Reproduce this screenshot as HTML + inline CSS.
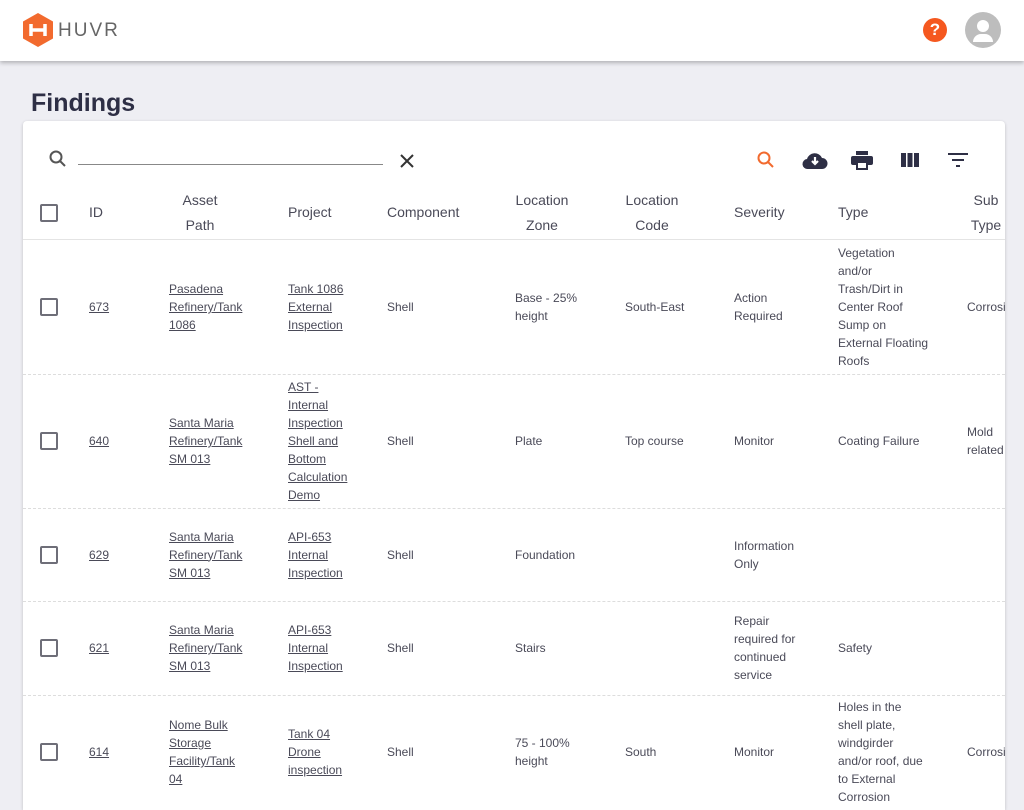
<!DOCTYPE html>
<html style="width:1024px;height:810px;overflow:hidden"><head><meta charset="utf-8">
<style>
*{margin:0;padding:0;box-sizing:border-box}
body{width:1024px;height:810px;overflow:hidden;background:#eeeef3;font-family:"Liberation Sans",sans-serif;position:relative;color:#4a4a58}
.top{position:absolute;left:0;top:0;width:1024px;height:61px;background:#fff;box-shadow:0 2px 4px rgba(0,0,0,.25)}
h1{position:absolute;left:31px;top:89px;font-size:25px;font-weight:bold;color:#2e2f45}
.card{position:absolute;left:23px;top:121px;width:982px;height:689px;background:#fff;border-radius:4px 4px 0 0;box-shadow:0 1px 3px rgba(0,0,0,.2)}
.a{position:absolute}
.c{position:absolute;font-size:12px;line-height:18px;display:flex;align-items:center}
.u{text-decoration:underline}
.h{position:absolute;font-size:14px;line-height:24.5px;color:#4a4a58;text-align:center}
.cb{position:absolute;width:18px;height:18px;border:2px solid #6e6e78;border-radius:2px}
.sep{position:absolute;left:23px;width:982px;border-top:1px dashed #ddd}
</style></head><body>
<div class="top">
 <svg class="a" style="left:22px;top:13px" width="32" height="34" viewBox="0 0 32 34"><polygon points="16,0 31,8.5 31,25.5 16,34 1,25.5 1,8.5" fill="#f26a2e"/><path d="M9 11v12M23 11v12M9 17h14" stroke="#fff" stroke-width="3.5" fill="none"/></svg>
 <div class="a" style="left:58px;top:20px;font-size:19px;letter-spacing:2px;color:#666;">HUVR</div>
 <div class="a" style="left:923px;top:18px;width:24px;height:24px;border-radius:50%;background:#f5581f;color:#fff;font-weight:bold;font-size:17px;text-align:center;line-height:24px">?</div>
 <div class="a" style="left:965px;top:12px;width:36px;height:36px;border-radius:50%;background:#bdbdbd;overflow:hidden">
  <div class="a" style="left:12px;top:8px;width:12px;height:12px;border-radius:50%;background:#fff"></div>
  <div class="a" style="left:8px;top:22px;width:20px;height:8px;border-radius:8px 8px 0 0;background:#fff"></div></div>
</div>
<h1>Findings</h1>
<div class="card"></div>
<svg class="a" style="left:48px;top:149px" width="20" height="20" viewBox="0 0 20 20"><circle cx="8" cy="8" r="5.5" stroke="#555" stroke-width="2" fill="none"/><path d="M12 12l5 5" stroke="#555" stroke-width="2"/></svg>
<div class="a" style="left:78px;top:164px;width:305px;border-top:1px solid #888"></div>
<svg class="a" style="left:399px;top:153px" width="16" height="16"><path d="M2 2l12 12M14 2L2 14" stroke="#333" stroke-width="2"/></svg>
<svg class="a" style="left:756px;top:150px" width="20" height="20" viewBox="0 0 20 20"><circle cx="8" cy="8" r="5.5" stroke="#f26a2e" stroke-width="2" fill="none"/><path d="M12 12l5 5" stroke="#f26a2e" stroke-width="2"/></svg>
<svg class="a" style="left:802px;top:151px" width="26" height="19" viewBox="0 0 26 19"><path d="M6 18a5 5 0 0 1-1-10a8 8 0 0 1 15-1a5.5 5.5 0 0 1 0 11z" fill="#2e2f45"/><path d="M13 6v6M10 10l3 3 3-3" stroke="#fff" stroke-width="2.2" fill="none"/></svg>
<svg class="a" style="left:851px;top:151px" width="22" height="19"><rect x="5" y="0" width="12" height="4" fill="#2e2f45"/><rect x="0" y="5" width="22" height="9" rx="2" fill="#2e2f45"/><rect x="5" y="11" width="12" height="8" fill="#2e2f45"/><rect x="7" y="12" width="8" height="5" fill="#fff"/></svg>
<svg class="a" style="left:901px;top:153px" width="18" height="14"><rect width="5" height="14" fill="#2e2f45"/><rect x="6.5" width="5" height="14" fill="#2e2f45"/><rect x="13" width="5" height="14" fill="#2e2f45"/></svg>
<svg class="a" style="left:948px;top:153px" width="20" height="14"><rect width="20" height="2" fill="#2e2f45"/><rect x="4" y="6" width="12" height="2" fill="#2e2f45"/><rect x="8" y="12" width="4" height="2" fill="#2e2f45"/></svg>

<div class="cb" style="left:40px;top:204px"></div>
<div class="h" style="left:89px;top:200px">ID</div>
<div class="h" style="left:160px;top:188px;width:80px">Asset<br>Path</div>
<div class="h" style="left:288px;top:200px">Project</div>
<div class="h" style="left:387px;top:200px">Component</div>
<div class="h" style="left:502px;top:188px;width:80px">Location<br>Zone</div>
<div class="h" style="left:612px;top:188px;width:80px">Location<br>Code</div>
<div class="h" style="left:734px;top:200px">Severity</div>
<div class="h" style="left:838px;top:200px">Type</div>
<div class="h" style="left:966px;top:188px;width:40px">Sub<br>Type</div>
<div class="sep" style="top:239px;border-top:1px solid #e4e4e4"></div>

<div class="cb" style="left:40px;top:298px"></div>
<div class="c u" style="left:89px;top:240px;height:134px">673</div>
<div class="c u" style="left:169px;top:240px;height:134px">Pasadena<br>Refinery/Tank<br>1086</div>
<div class="c u" style="left:288px;top:240px;height:134px">Tank 1086<br>External<br>Inspection</div>
<div class="c" style="left:387px;top:240px;height:134px">Shell</div>
<div class="c" style="left:515px;top:240px;height:134px">Base - 25%<br>height</div>
<div class="c" style="left:625px;top:240px;height:134px">South-East</div>
<div class="c" style="left:734px;top:240px;height:134px">Action<br>Required</div>
<div class="c" style="left:838px;top:240px;height:134px">Vegetation<br>and/or<br>Trash/Dirt in<br>Center Roof<br>Sump on<br>External Floating<br>Roofs</div>
<div class="c" style="left:967px;top:240px;height:134px;width:38px;overflow:hidden;white-space:nowrap">Corrosion</div>
<div class="sep" style="top:374px"></div>

<div class="cb" style="left:40px;top:432px"></div>
<div class="c u" style="left:89px;top:374px;height:134px">640</div>
<div class="c u" style="left:169px;top:374px;height:134px">Santa Maria<br>Refinery/Tank<br>SM 013</div>
<div class="c u" style="left:288px;top:374px;height:134px">AST -<br>Internal<br>Inspection<br>Shell and<br>Bottom<br>Calculation<br>Demo</div>
<div class="c" style="left:387px;top:374px;height:134px">Shell</div>
<div class="c" style="left:515px;top:374px;height:134px">Plate</div>
<div class="c" style="left:625px;top:374px;height:134px">Top course</div>
<div class="c" style="left:734px;top:374px;height:134px">Monitor</div>
<div class="c" style="left:838px;top:374px;height:134px">Coating Failure</div>
<div class="c" style="left:967px;top:374px;height:134px">Mold<br>related</div>
<div class="sep" style="top:508px"></div>

<div class="cb" style="left:40px;top:546px"></div>
<div class="c u" style="left:89px;top:508px;height:93px">629</div>
<div class="c u" style="left:169px;top:508px;height:93px">Santa Maria<br>Refinery/Tank<br>SM 013</div>
<div class="c u" style="left:288px;top:508px;height:93px">API-653<br>Internal<br>Inspection</div>
<div class="c" style="left:387px;top:508px;height:93px">Shell</div>
<div class="c" style="left:515px;top:508px;height:93px">Foundation</div>
<div class="c" style="left:734px;top:508px;height:93px">Information<br>Only</div>
<div class="sep" style="top:601px"></div>

<div class="cb" style="left:40px;top:639px"></div>
<div class="c u" style="left:89px;top:601px;height:94px">621</div>
<div class="c u" style="left:169px;top:601px;height:94px">Santa Maria<br>Refinery/Tank<br>SM 013</div>
<div class="c u" style="left:288px;top:601px;height:94px">API-653<br>Internal<br>Inspection</div>
<div class="c" style="left:387px;top:601px;height:94px">Shell</div>
<div class="c" style="left:515px;top:601px;height:94px">Stairs</div>
<div class="c" style="left:734px;top:601px;height:94px">Repair<br>required for<br>continued<br>service</div>
<div class="c" style="left:838px;top:601px;height:94px">Safety</div>
<div class="sep" style="top:695px"></div>

<div class="cb" style="left:40px;top:743px"></div>
<div class="c u" style="left:89px;top:695px;height:114px">614</div>
<div class="c u" style="left:169px;top:695px;height:114px">Nome Bulk<br>Storage<br>Facility/Tank<br>04</div>
<div class="c u" style="left:288px;top:695px;height:114px">Tank 04<br>Drone<br>inspection</div>
<div class="c" style="left:387px;top:695px;height:114px">Shell</div>
<div class="c" style="left:515px;top:695px;height:114px">75 - 100%<br>height</div>
<div class="c" style="left:625px;top:695px;height:114px">South</div>
<div class="c" style="left:734px;top:695px;height:114px">Monitor</div>
<div class="c" style="left:838px;top:695px;height:114px">Holes in the<br>shell plate,<br>windgirder<br>and/or roof, due<br>to External<br>Corrosion</div>
<div class="c" style="left:967px;top:695px;height:114px;width:38px;overflow:hidden;white-space:nowrap">Corrosion</div>
</body></html>
